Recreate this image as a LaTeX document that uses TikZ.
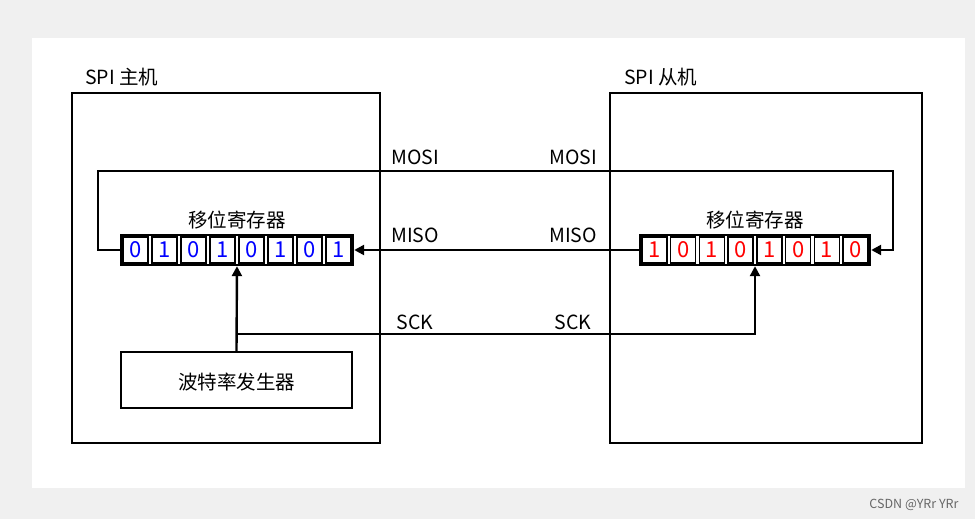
\documentclass[tikz,border=0pt]{standalone}
\usepackage{fontspec}
\setmainfont{Noto Sans CJK SC}
\usetikzlibrary{arrows.meta}
\definecolor{bg}{HTML}{F0F0F0}
\begin{document}
\begin{tikzpicture}[x=1pt,y=-1pt,
  box/.style={draw,line width=2.4pt},
  wire/.style={line width=2.4pt},
  arr/.style={wire,-{Triangle[length=10pt,width=10pt]}},
  lbl/.style={font=\fontsize{19.5}{21}\selectfont,inner sep=0pt},
  bit/.style={draw,line width=1.6pt,minimum width=25pt,minimum height=26pt,inner sep=0pt,font=\fontsize{22}{22}\selectfont}]
\fill[bg] (0,0) rectangle (975,519);
\useasboundingbox (0,0) rectangle (975,519);
\fill[white] (32,38) rectangle (965,488);
\node[lbl,anchor=west] (tm) at (85,77) {SPI 主机};
\node[lbl,anchor=west] (ts) at (624,77) {SPI 从机};
\draw[box] (72,93) rectangle (380,443);
\draw[box] (610,93) rectangle (922,443);
% registers
\node[box,minimum width=232pt,minimum height=30pt,inner sep=0pt] (L) at (237,250) {};
\node[box,minimum width=230pt,minimum height=30pt,inner sep=0pt] (R) at (755,250) {};
\foreach \b [count=\i] in {0,1,0,1,0,1,0,1}{
  \node[bit,text=blue] (l\i) at (121+29*\i-14.5,250) {\b};}
\foreach \b [count=\i] in {1,0,1,0,1,0,1,0}{
  \node[bit,text=red] (r\i) at (640+28.75*\i-14.4,250) {\b};}
\node[lbl] (tl) at (237,220) {移位寄存器};
\node[lbl] (tr) at (755,220) {移位寄存器};
\node[box,minimum width=231pt,minimum height=56pt] (G) at (236.5,380) {};
\node[lbl] (gt) at (236.5,382) {波特率发生器};
% MOSI
\coordinate (m1) at (98,171);
\coordinate (m2) at (893,171);
\draw[arr] (L.west) -| (m1) -- (m2) |- (R.east);
% MISO
\draw[arr] (R.west) -- (L.east);
% SCK
\coordinate (s1) at (237,334);
\coordinate (s2) at (755,334);
\draw[arr] (G.north) -- (L.south);
\draw[arr] (s1) -- (s2) -- (R.south);
\node[lbl] at (415,157) {MOSI};
\node[lbl] at (573,157) {MOSI};
\node[lbl] at (415,235) {MISO};
\node[lbl] at (573,235) {MISO};
\node[lbl] at (415,322) {SCK};
\node[lbl] at (573,322) {SCK};
\node[font=\fontsize{12.5}{13}\selectfont,text=gray!80!black,anchor=east] at (962,505) {CSDN @YRr YRr};
\end{tikzpicture}
\end{document}
